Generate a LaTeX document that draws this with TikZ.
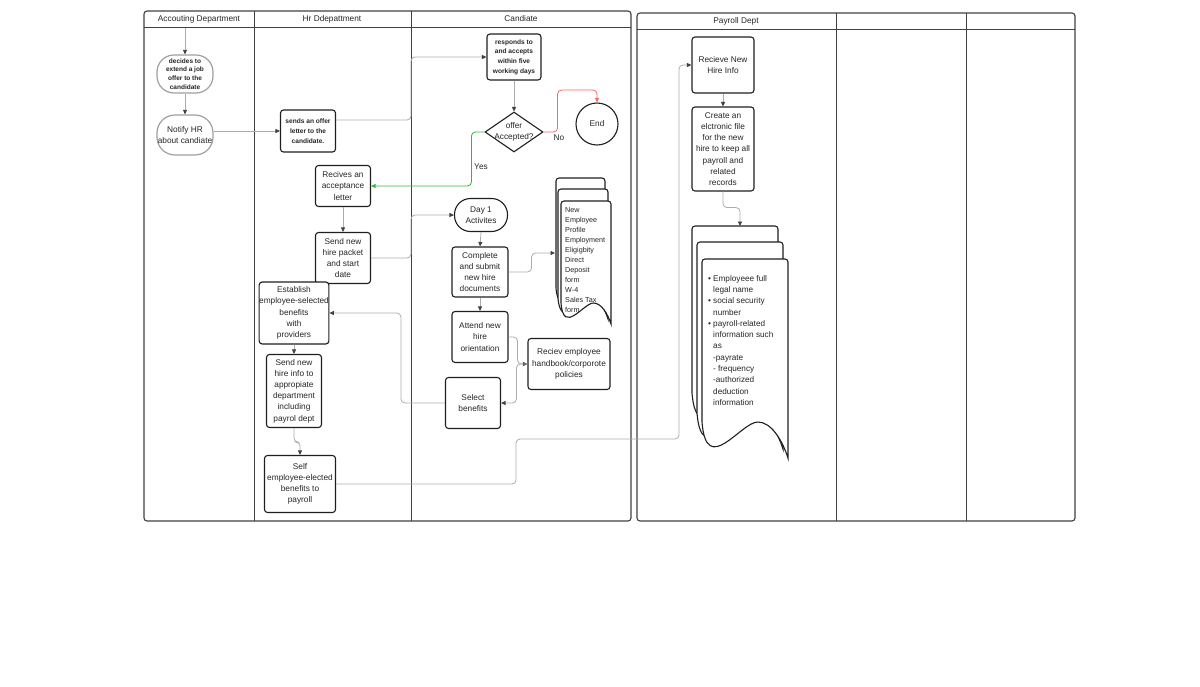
\documentclass[tikz,border=0pt]{standalone}
\usepackage{fontspec}
\setmainfont{Liberation Sans}
\usetikzlibrary{arrows.meta,shapes.geometric,calc}
\newcommand\fnorm{\fontsize{8.3}{11.2}\selectfont}
\newcommand\fbold{\fontsize{6.6}{9.7}\selectfont\bfseries}
\newcommand\fboldt{\fontsize{6.5}{8.7}\selectfont\bfseries}
\newcommand\fhead{\fontsize{8.3}{10}\selectfont}
\newcommand\fdoc{\fontsize{7.2}{10}\selectfont}
\newcommand\fpay{\fontsize{8.2}{11.3}\selectfont}
% #1 left x, #2 top y, #3 width, #4 left side height
\newcommand\docpage[4]{%
  \draw[pagestyle] (#1,#2+#4) [rounded corners=3pt] -- (#1,#2) -- (#1+#3,#2) -- (#1+#3,#2+10) [sharp corners]
    -- (#1+#3,#2+#4+0.42*#3)
    .. controls (#1+0.93*#3,#2+#4+0.2*#3) and (#1+0.8*#3,#2+#4+0.0*#3) .. (#1+0.65*#3,#2+#4+0.0*#3)
    .. controls (#1+0.45*#3,#2+#4+0.0*#3) and (#1+0.05*#3,#2+#4+0.65*#3) .. (#1,#2+#4) -- cycle;}
\tikzset{
  pool/.style={draw=black!75, line width=1.1pt, rounded corners=3pt},
  sep/.style={draw=black!75, line width=0.9pt},
  box/.style={draw=black!88, line width=1.1pt, rounded corners=3pt, fill=white, align=center,
    inner sep=0pt, font=\fnorm, text=black!85},
  term/.style={box, draw=gray!75, line width=1.2pt},
  pagestyle/.style={draw=black!88, line width=1.1pt, fill=white},
  conn/.style={draw=gray!65, line width=0.8pt, rounded corners=4pt,
    -{Triangle[length=4.5pt,width=4pt,color=black!75]}},
  yesconn/.style={conn, draw=green!65!black!80, -{Triangle[length=4.5pt,width=4pt,color=green!65!black!80]}},
  noconn/.style={conn, draw=red!60, -{Triangle[length=4.5pt,width=4pt,color=red!60]}},
  head/.style={font=\fhead, text=black!85, inner sep=0pt},
  lab/.style={font=\fnorm, text=black!85, inner sep=0pt},
}
\begin{document}
\begin{tikzpicture}[x=1pt,y=-1pt]
\useasboundingbox (0,0) rectangle (1200,686);
% pools
\draw[pool] (144,11) rectangle (631,521);
\draw[sep] (144,27) -- (631,27);
\draw[sep] (254,11) -- (254,521);
\draw[sep] (411,11) -- (411,521);
\draw[pool] (637,13) rectangle (1075,521);
\draw[sep] (637,29) -- (1075,29);
\draw[sep] (836,13) -- (836,521);
\draw[sep] (966,13) -- (966,521);
\node[head] (h1) at (199,19) {Accouting Department};
\node[head] (h2) at (332,19) {Hr Ddepattment};
\node[head] (h3) at (521,19) {Candiate};
\node[head] (h4) at (736,21) {Payroll Dept};

% accounting
\coordinate (accstart) at (185,28);
\node[term, rounded corners=17pt, minimum width=56, minimum height=38, font=\fboldt] (decides) at (185,74)
  {decides to\\extend a job\\offer to the\\candidate};
\node[term, rounded corners=18pt, minimum width=56, minimum height=40] (notify) at (185,135)
  {Notify HR\\about candiate};

% HR
\node[box, minimum width=55, minimum height=42, font=\fbold] (sends) at (308,131)
  {sends an offer\\letter to the\\candidate.};
\node[box, minimum width=55, minimum height=41] (recives) at (343,186) {Recives an\\acceptance\\letter};
\node[box, minimum width=55, minimum height=51] (packet) at (343,258) {Send new\\hire packet\\and start\\date};
\node[box, minimum width=55, minimum height=62] (establish) at (294,313)
  {Establish\\employee-selected\\benefits\\with\\providers};
\node[box, minimum width=55, minimum height=73] (sendinfo) at (294,391)
  {Send new\\hire info to\\appropiate\\department\\including\\payrol dept};
\node[box, minimum width=71, minimum height=57] (self) at (300,484)
  {Self\\employee-elected\\benefits to\\payroll};

% candidate
\node[box, minimum width=54, minimum height=46, font=\fbold] (responds) at (514,57)
  {responds to\\and accepts\\within five\\working days};
\node[draw=black!88, line width=1.1pt, diamond, fill=white, minimum width=58, minimum height=40, inner sep=0pt,
  label={[font=\fnorm, text=black!85, align=center]center:offer\\Accepted?}] (dia) at (514,132) {};
\node[draw=black!88, line width=1.1pt, circle, minimum size=42, inner sep=0pt, font=\fnorm, text=black!85] (end) at (597,124) {End};
\node[box, rounded corners=16pt, minimum width=53, minimum height=33] (day1) at (481,215) {Day 1\\Activites};
\node[box, minimum width=56, minimum height=50] (complete) at (480,272) {Complete\\and submit\\new hire\\documents};
\node[box, minimum width=56, minimum height=51] (attend) at (480,337) {Attend new\\hire\\orientation};
\node[box, minimum width=82, minimum height=51] (reciev) at (569,364) {Reciev employee\\handbook/corporote\\policies};
\node[box, minimum width=55, minimum height=51] (select) at (473,403) {Select\\benefits};

% candidate documents
\docpage{556}{178}{49}{110}
\docpage{558}{189}{50}{109}
\docpage{561}{201}{50}{102}
\coordinate (cdoc) at (555,253);
\node[anchor=north west, align=left, inner sep=0pt, font=\fdoc, text=black!85] (cdoctext) at (565,207)
  {New\\Employee\\Profile\\Employment\\Eligigbity\\Direct\\Deposit\\form\\W-4\\Sales Tax\\form};

% payroll
\node[box, minimum width=62, minimum height=56] (recvnew) at (723,65) {Recieve New\\Hire Info};
\node[box, minimum width=62, minimum height=84] (create) at (723,149)
  {Create an\\elctronic file\\for the new\\hire to keep all\\payroll and\\related\\records};
\docpage{692}{226}{86}{167}
\docpage{697}{242}{86}{171}
\docpage{702}{259}{86}{163}
\coordinate (pdoc) at (740,226);
\node[anchor=north west, align=left, inner sep=0pt, font=\fpay, text=black!85] (pdoctext) at (713,275)
  {\llap{\textbullet\ }Employeee full\\legal name\\\llap{\textbullet\ }social security\\number\\\llap{\textbullet\ }payroll-related\\information such\\as\\-payrate\\- frequency\\-authorized\\deduction\\information};

% connectors
\draw[conn] (accstart) -- (decides.north);
\draw[conn] (decides.south) -- (notify.north);
\draw[conn] (notify.east |- sends.west) -- (sends.west);
\draw[conn] ([yshift=11pt]sends.east) -- ++(75,0) |- (responds.west);
\draw[conn] (responds.south) -- (dia.north);
\draw[noconn] (dia.east) -- ++(14,0) -- ++(0,-42) -| (end.north);
\node[lab] (nolab) at (559,138) {No};
\draw[yesconn] (dia.west) -- ++(-13,0) |- (recives.east);
\node[lab] (yeslab) at (481,167) {Yes};
\draw[conn] (recives.south) -- (packet.north);
\draw[conn] (packet.east) -- ++(40,0) |- (day1.west);
\draw[conn] (day1.south) -- (complete.north);
\draw[conn] (complete.east) -- ++(23,0) |- (cdoc);
\draw[conn] (complete.south) -- (attend.north);
\draw[conn] (attend.east) -- ++(9,0) |- (reciev.west);
\draw[conn] (reciev.west) -- ++(-11,0) |- (select.east);
\draw[conn] (select.west) -- ++(-44,0) |- (establish.east);
\draw[conn] (establish.south) -- (sendinfo.north);
\draw[conn] (sendinfo.south) -- ++(0,14) -| (self.north);
\draw[conn] (self.east) -- ++(180,0) |- (679,439) |- (recvnew.west);
\draw[conn] (recvnew.south) -- (create.north);
\draw[conn] (create.south) -- ++(0,16) -| (pdoc);
\end{tikzpicture}
\end{document}
